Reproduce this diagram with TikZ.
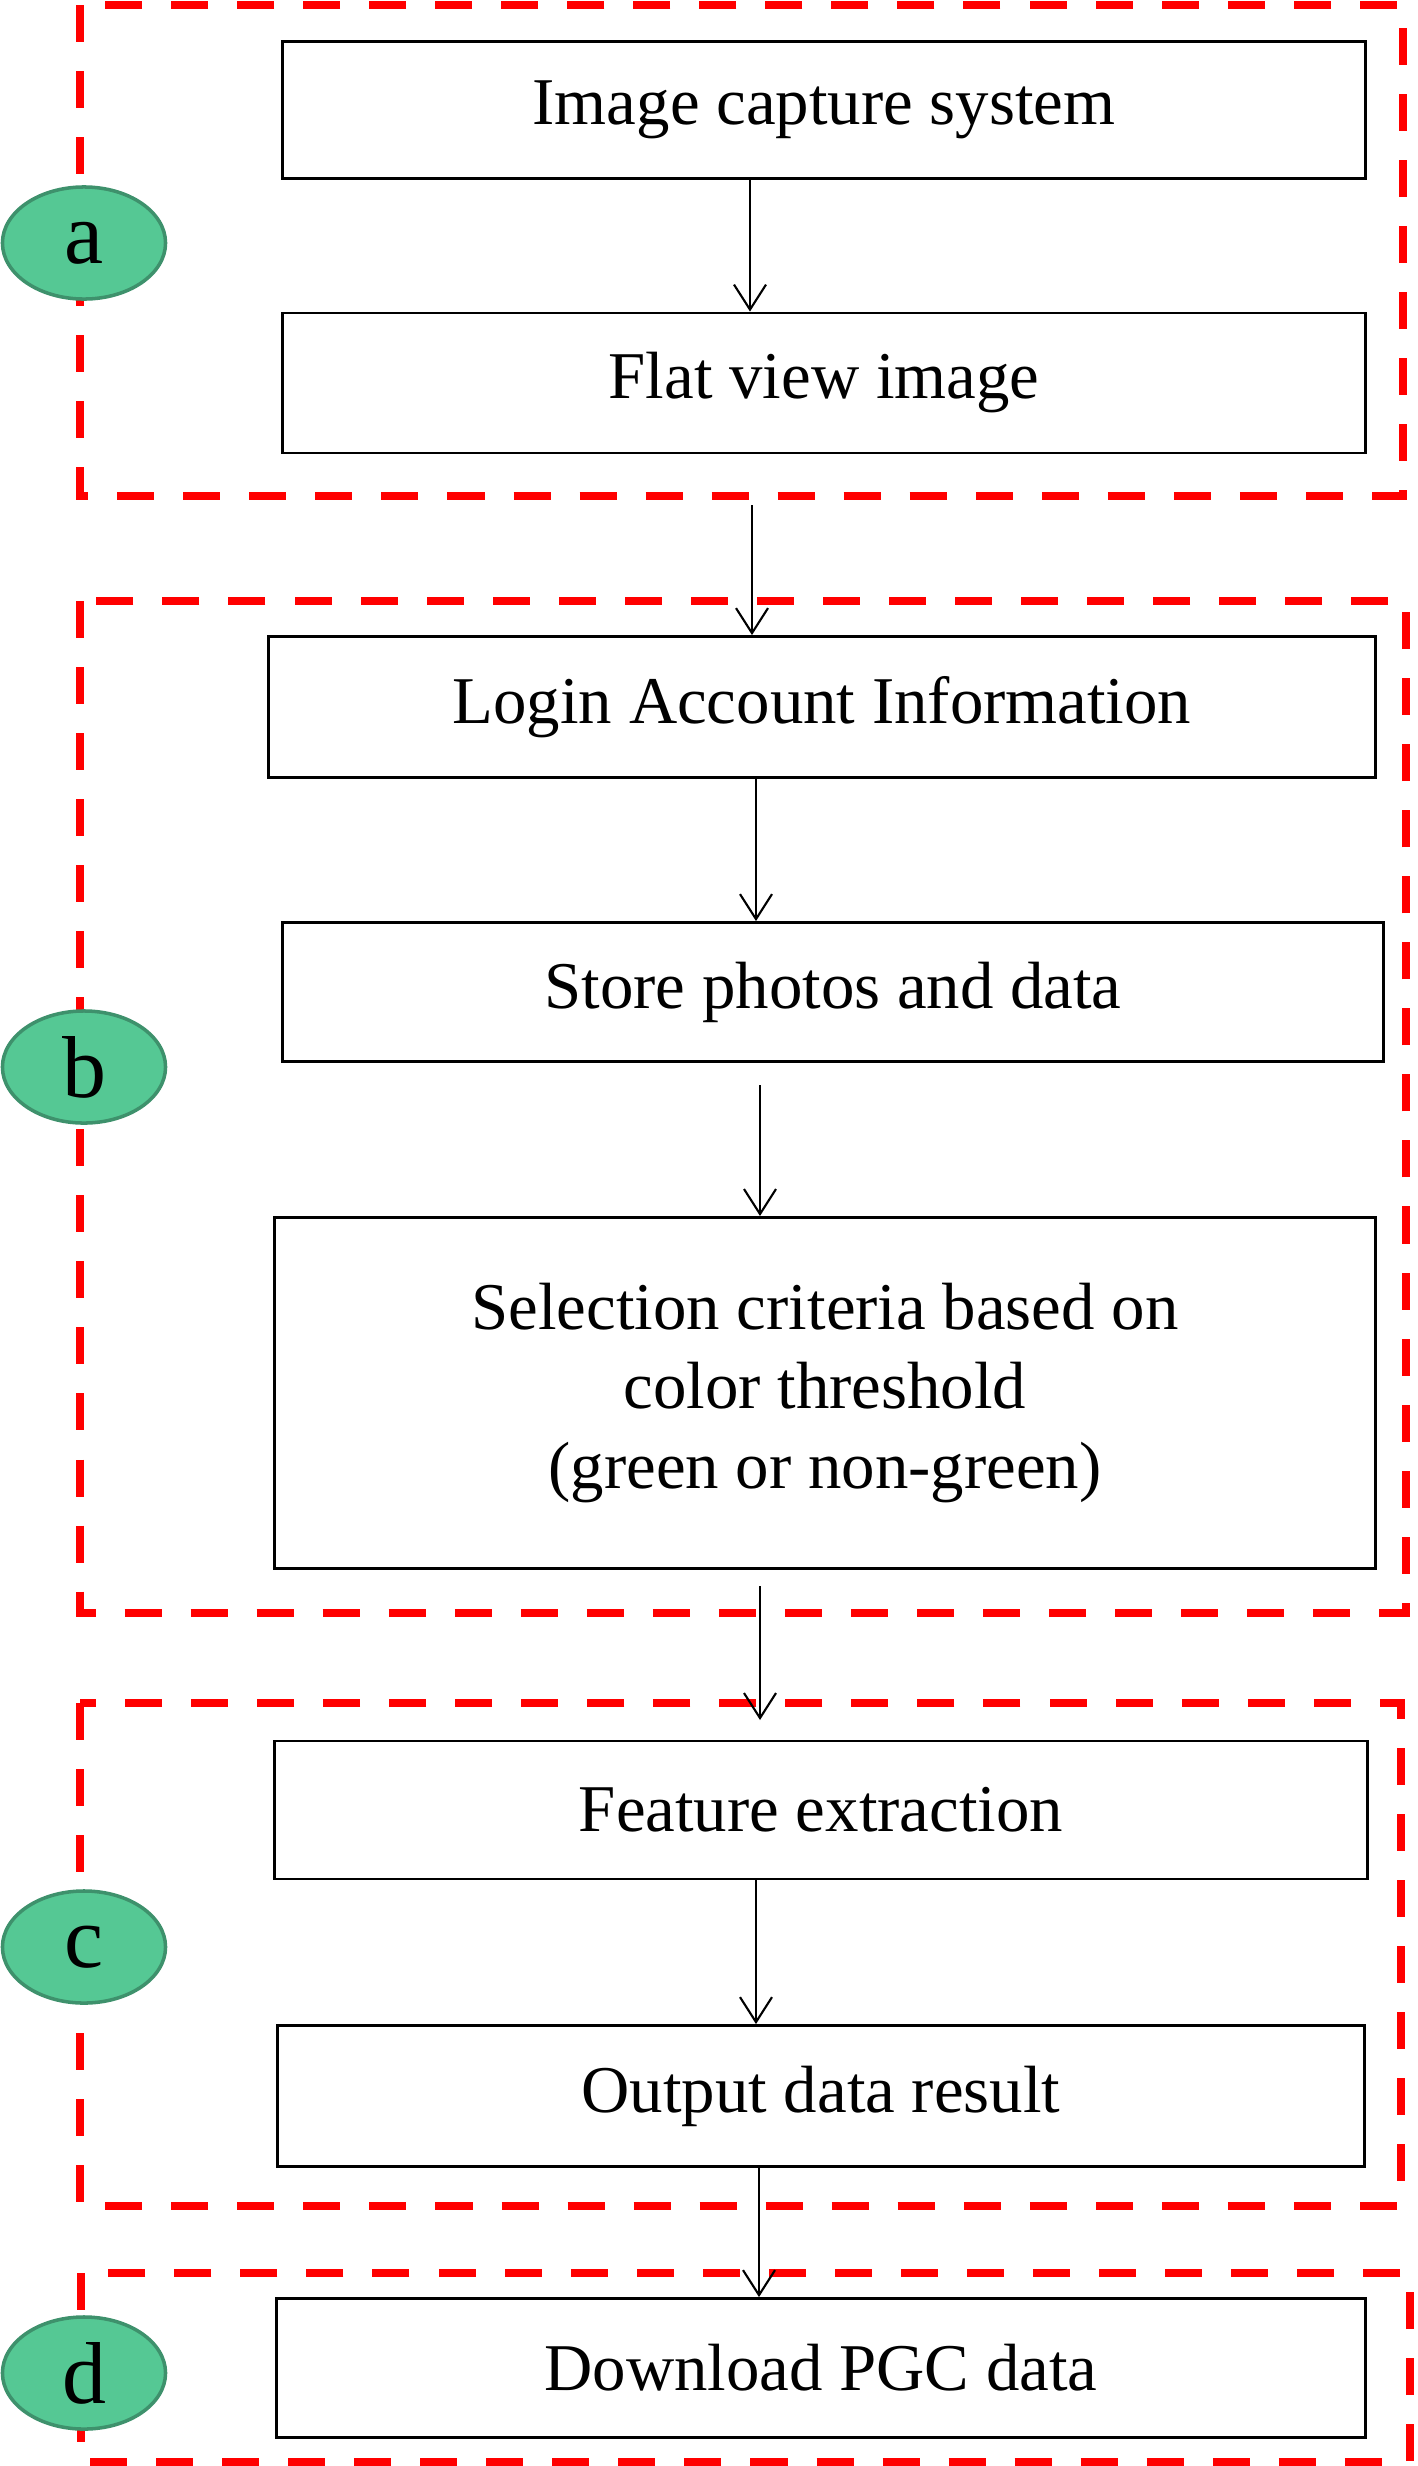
\documentclass[tikz,border=0pt]{standalone}
\usepackage{fontspec}
\setmainfont{Liberation Serif}
\usepackage{xcolor}
\usepackage{tikz}
\usetikzlibrary{arrows.meta, shapes.geometric, positioning, calc}
\definecolor{stagered}{RGB}{255, 0, 0}
\definecolor{tagfill}{RGB}{85, 200, 148}
\definecolor{tagline}{RGB}{62, 145, 108}
\tikzset{
  procbox/.style={draw, line width=0.8pt, fill=white, minimum width=#1, minimum height=1.39cm,
    inner sep=0pt, align=center, font=\fontsize{19}{22.6}\selectfont},
  stage/.style={draw=stagered, line width=2.3pt, dash pattern=on 0.37cm off 0.29cm},
  tag/.style={ellipse, draw=tagline, fill=tagfill, line width=1pt, minimum width=1.63cm,
    minimum height=1.12cm, inner sep=0pt, font=\fontsize{25}{28}\selectfont},
  flow/.style={line width=0.6pt, -{Straight Barb[length=0.25cm, width=0.32cm]}}
}

\begin{document}
\begin{tikzpicture}[x=0.01cm, y=-0.01cm]
    \useasboundingbox (0,0) rectangle (1417,2466);
    % dashed stage frames
    \foreach \xa/\ya/\xb/\yb in {80/5/1403/496, 80/601/1406/1613, 80/1703/1401/2206, 81/2273/1410/2462}{
      \draw[stage] (\xa,\ya) rectangle (\xb,\yb);
    }
    % stage tags
    \foreach \y/\lbl in {243/a, 1067/b, 1947/c, 2373/d}{
      \node[tag] (tag-\lbl) at (84,\y) {\lbl};
    }
    % process boxes
    \node[procbox=10.82cm, minimum height=1.37cm] (capture) at (824,110) {Image capture system};
    \node[procbox=10.82cm, minimum height=1.40cm] (flat) at (824,383) {Flat view image};
    \node[procbox=11.07cm, minimum height=1.41cm] (login) at (822,707) {Login Account Information};
    \node[procbox=11.01cm] (store) at (833,992) {Store photos and data};
    \node[procbox=11.01cm, minimum height=3.51cm] (select) at (825,1393)
      {Selection criteria based on\\ color threshold\\ (green or non-green)};
    \node[procbox=10.93cm, minimum height=1.38cm] (feature) at (821,1810) {Feature extraction};
    \node[procbox=10.87cm, minimum height=1.41cm] (output) at (821,2096) {Output data result};
    \node[procbox=10.89cm] (download) at (821,2368) {Download PGC data};
    % arrow anchors
    \coordinate (c1) at (750,0);
    \coordinate (aout) at (752,505);
    \coordinate (c3) at (756,0);
    \coordinate (sout) at (760,1085);
    \coordinate (selout) at (760,1586);
    \coordinate (fin) at (760,1720);
    \coordinate (c7) at (759,0);
    \draw[flow] (c1 |- capture.south) -- (c1 |- flat.north);
    \draw[flow] (aout) -- (aout |- login.north);
    \draw[flow] (c3 |- login.south) -- (c3 |- store.north);
    \draw[flow] (sout) -- (sout |- select.north);
    \draw[flow] (selout) -- (fin);
    \draw[flow] (c3 |- feature.south) -- (c3 |- output.north);
    \draw[flow] (c7 |- output.south) -- (c7 |- download.north);
  \end{tikzpicture}
\end{document}
